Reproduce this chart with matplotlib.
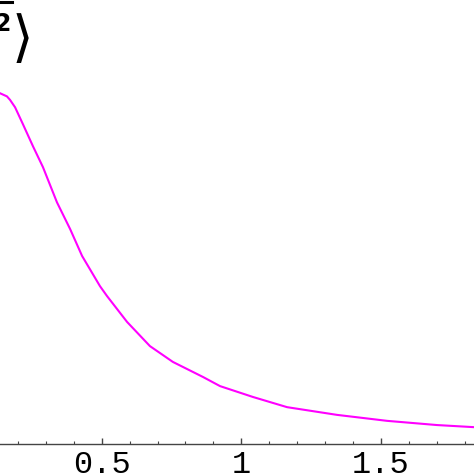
import matplotlib.pyplot as plt
from matplotlib.ticker import MultipleLocator

# curve (y in arbitrary units, peak ~ 1)
x = [0.136, 0.161, 0.172, 0.190, 0.218, 0.254, 0.290, 0.340, 0.387, 0.430, 0.494,
     0.519, 0.591, 0.673, 0.755, 0.863, 0.924, 1.042, 1.164, 1.343, 1.522, 1.701,
     1.833]
y = [1.000, 0.991, 0.981, 0.960, 0.912, 0.849, 0.789, 0.689, 0.613, 0.536, 0.450,
     0.422, 0.348, 0.279, 0.234, 0.191, 0.165, 0.134, 0.105, 0.083, 0.066, 0.054,
     0.048]
xticks = [0.5, 1, 1.5]
xticklabels = ["0.5", "1", "1.5"]

fig = plt.figure(figsize=(4.74, 4.74), dpi=100)
# axes is larger than the canvas: the picture is a crop of a bigger plot
ax = fig.add_axes([-38 / 474, 30 / 474, 558.6 / 474, 456 / 474])
ax.plot(x, y, color="#ff00ff", linewidth=1.5)

ax.set_xlim(0, 2)
ax.set_ylim(0, 1.3)
for s in ["top", "left", "right"]:
    ax.spines[s].set_visible(False)
ax.spines["bottom"].set_color("#444444")
ax.spines["bottom"].set_linewidth(1.0)

ax.set_xticks(xticks)
ax.set_xticklabels(xticklabels)
ax.xaxis.set_minor_locator(MultipleLocator(0.1))
ax.tick_params(axis="x", which="major", direction="in", length=4, width=1,
               color="#444444", pad=4, labelsize=23)
ax.tick_params(axis="x", which="minor", direction="in", length=2.5, width=0.8,
               color="#444444")
ax.set_yticks([])
for lab in ax.get_xticklabels():
    lab.set_family("Liberation Mono")

# cropped axis label in the top-left corner
fig.text(10 / 474, 1 - 31 / 474, "2", fontsize=17, fontweight="bold",
         ha="right", va="baseline")
fig.text(12 / 474, 1 - 41 / 474, "\u27e9", fontsize=40,
         ha="left", va="center")
fig.add_artist(plt.Line2D([0, 12 / 474], [1 - 1.5 / 474, 1 - 1.5 / 474],
                          color="black", linewidth=2.2,
                          transform=fig.transFigure))

fig.savefig("out.png", dpi=100)
